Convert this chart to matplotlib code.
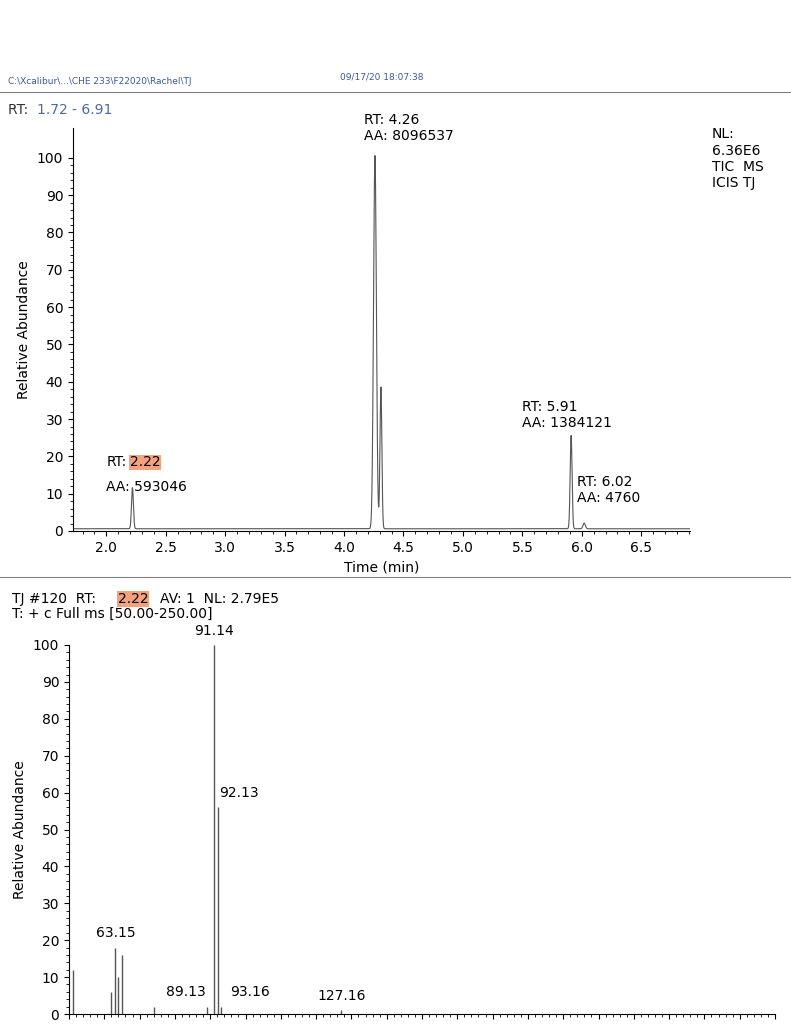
import matplotlib
matplotlib.use("Agg")
import matplotlib.pyplot as plt
import numpy as np

# chromatogram peaks
rt_peaks = [2.22, 4.26, 4.31, 5.91, 6.02]
rt_heights = [11, 100, 38, 25, 1.5]
rt_widths = [0.008, 0.012, 0.008, 0.008, 0.01]
# mass spectrum
mz = [51.0, 62.0, 63.15, 64.0, 65.0, 74.0, 89.13, 91.14, 92.13, 93.16, 127.16]
mz_int = [12, 6, 18, 10, 16, 2, 2, 100, 56, 2, 1]

fig = plt.figure(figsize=(7.91, 10.24), dpi=100)
W, H = 791, 1024
def ax_rect(l, r, t, b):
    return [l / W, 1 - b / H, (r - l) / W, (b - t) / H]

fig.text(8/W, 1-84/H, r"C:\Xcalibur\...\CHE 233\F22020\Rachel\TJ", fontsize=6.5, color="#3a5a9a")
fig.text(340/W, 1-80/H, "09/17/20 18:07:38", fontsize=6.5, color="#3a5a9a")
fig.add_artist(plt.Line2D([0, 1], [1-92/H, 1-92/H], color="gray", lw=0.8))
fig.text(8/W, 1-114/H, "RT: ", fontsize=10, color="#333")
fig.text(37/W, 1-114/H, "1.72 - 6.91", fontsize=10, color="#4a6aa0")

# top chromatogram
ax1 = fig.add_axes(ax_rect(73, 690, 128, 531))
t = np.linspace(1.72, 6.91, 6000)
y = np.full_like(t, 0.6)
for p, h, w in zip(rt_peaks, rt_heights, rt_widths):
    y += h * np.exp(-0.5 * ((t - p) / w) ** 2)
ax1.plot(t, y, color="#555", lw=0.8)
ax1.set_xlim(1.72, 6.91)
ax1.set_ylim(0, 108)
ax1.set_yticks(range(0, 101, 10))
ax1.set_yticks(range(0, 101, 2), minor=True)
ax1.set_xticks(np.arange(2.0, 6.51, 0.5))
ax1.set_xticklabels([f"{v:.1f}" for v in np.arange(2.0, 6.51, 0.5)])
ax1.set_xticks(np.arange(1.8, 6.91, 0.1), minor=True)
for s in ["top", "right"]:
    ax1.spines[s].set_visible(False)
ax1.set_xlabel("Time (min)", fontsize=10)
ax1.set_ylabel("Relative Abundance", fontsize=10)
ax1.tick_params(labelsize=10)
ax1.text(4.17, 104, "RT: 4.26\nAA: 8096537", fontsize=10, ha="left", va="bottom")
ax1.text(5.5, 27, "RT: 5.91\nAA: 1384121", fontsize=10, va="bottom")
ax1.text(2.0, 16.5, "RT:", fontsize=10, va="bottom")
ax1.text(2.0, 10, "AA: 593046", fontsize=10, va="bottom")
ax1.text(2.2, 16.5, "2.22", fontsize=10, va="bottom",
         bbox=dict(facecolor="#f4a27e", edgecolor="none", pad=0.5))
ax1.text(5.96, 7, "RT: 6.02\nAA: 4760", fontsize=10, va="bottom")
fig.text(712/W, 1-190/H, "NL:\n6.36E6\nTIC  MS\nICIS TJ", fontsize=10, ha="left", va="bottom")

fig.add_artist(plt.Line2D([0, 1], [1-577/H, 1-577/H], color="gray", lw=0.8))
fig.text(12/W, 1-603/H, "TJ #120  RT:", fontsize=10)
fig.text(118/W, 1-603/H, "2.22", fontsize=10, bbox=dict(facecolor="#f4a27e", edgecolor="none", pad=0.5))
fig.text(160/W, 1-603/H, "AV: 1  NL: 2.79E5", fontsize=10)
fig.text(12/W, 1-618/H, "T: + c Full ms [50.00-250.00]", fontsize=10)

# bottom mass spectrum
ax2 = fig.add_axes(ax_rect(69, 775, 645, 1014))
ax2.vlines(mz, 0, mz_int, color="#555", lw=1)
ax2.set_xlim(50, 250)
ax2.set_ylim(0, 100)
ax2.set_yticks(range(0, 101, 10))
ax2.set_yticks(range(0, 101, 2), minor=True)
ax2.set_xticks(np.arange(50, 251, 10))
ax2.set_xticks(np.arange(50, 251, 2), minor=True)
ax2.set_xticklabels([])
ax2.spines["left"].set_bounds(0, 100)
for s in ["top", "right"]:
    ax2.spines[s].set_visible(False)
ax2.set_ylabel("Relative Abundance", fontsize=10)
ax2.tick_params(labelsize=10)
for m, i, lab, dx in [(91.14, 100, "91.14", 0), (92.13, 56, "92.13", 6),
                      (63.15, 18, "63.15", 0), (89.13, 2, "89.13", -6),
                      (93.16, 2, "93.16", 8), (127.16, 1, "127.16", 0)]:
    ax2.text(m + dx, i + 2, lab, fontsize=10, ha="center", va="bottom", clip_on=False)

fig.savefig("out.png", dpi=100)
